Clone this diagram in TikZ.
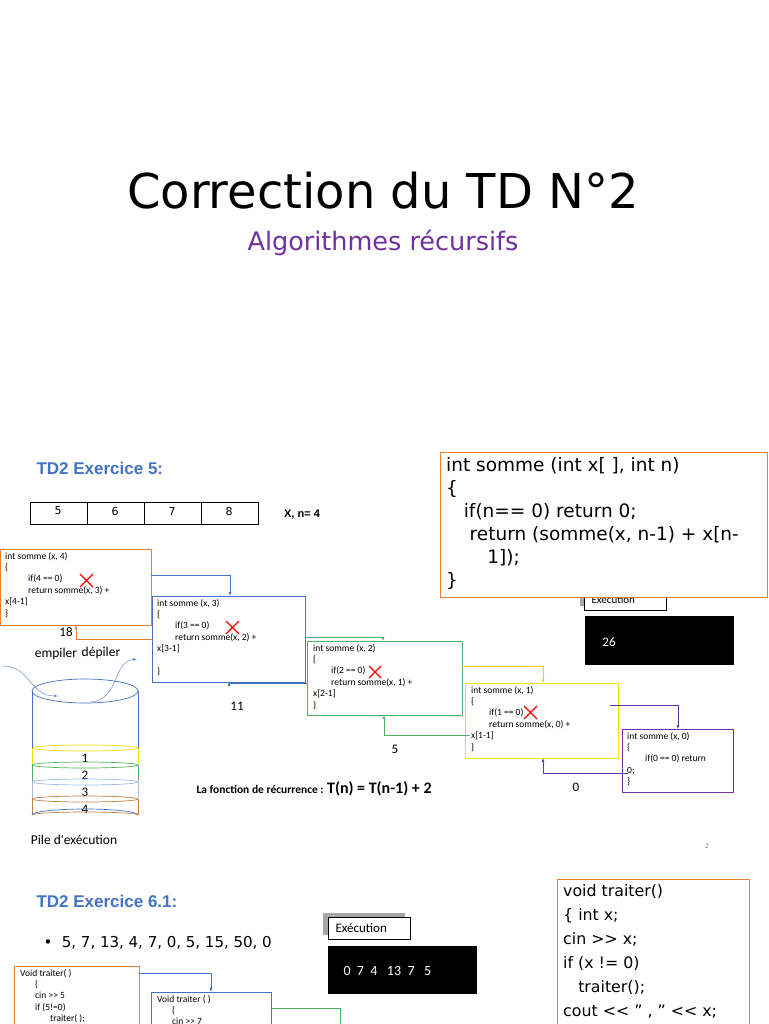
\documentclass[tikz,border=0pt]{standalone}
\usepackage{fontspec}
\setmainfont{DejaVu Sans}
\newfontfamily\calfnt{Carlito}
\newfontfamily\ari{Liberation Sans}
\usetikzlibrary{arrows.meta}
\definecolor{oran}{HTML}{ED7D31}
\definecolor{blu}{HTML}{4472C4}
\definecolor{grn}{HTML}{4EB060}
\definecolor{yel}{HTML}{F5E400}
\definecolor{pur}{HTML}{7030A0}
\definecolor{ttl}{HTML}{4472C4}
\tikzset{
 fr/.style={draw=#1, line width=0.9pt, fill=white},
 code/.style={font=\calfnt\fontsize{9.5}{11.4}\selectfont, align=left, anchor=north west, inner sep=0pt},
 ar/.style={draw=#1, line width=0.6pt, -{Latex[length=4pt,width=3pt]}},
 head/.style={font=\ari\bfseries\fontsize{17}{20}\selectfont, text=ttl, anchor=west},
 xx/.style={draw=red, line width=1.2pt}
}
\begin{document}
\begin{tikzpicture}[x=1pt,y=-1pt]
\clip (0,0) rectangle (768,1024);
\fill[white] (0,0) rectangle (768,1024);
\node (title) at (383,191) {\fontsize{48}{52}\selectfont Correction du TD N°2};
\node[text=pur] (sub) at (383,243) {\fontsize{25.5}{28}\selectfont Algorithmes récursifs};
\node[head] (h1) at (33,468) {TD2 Exercice 5:};
% array
\draw[line width=0.6pt] (30,502) rectangle (258,524);
\foreach \x in {87,144,201} \draw[line width=0.6pt] (\x,502)--(\x,524);
\foreach \v/\x in {5/58,6/115,7/172,8/229} \node[font=\fontsize{11}{12}\selectfont] at (\x,511) {\v};
\node[font=\ari\bfseries\fontsize{11}{12}\selectfont] (xn) at (302,515) {X, n= 4};
% execution 1
\fill[gray!70] (580,590) rectangle (662,606);
\draw[fill=white,line width=0.6pt] (584,592) rectangle (666,610);
\node[font=\calfnt\fontsize{11}{12}\selectfont,anchor=west] (ex1) at (588,600) {Exécution};
\fill[black] (585,616) rectangle (734,665);
\node[font=\calfnt\fontsize{13}{14}\selectfont,text=white] (r26) at (609,642) {26};
% big code box
\draw[fr=oran] (440,452) rectangle (767,597);
\node[anchor=north west, align=left, font=\fontsize{18.5}{23}\selectfont, inner sep=0pt] (bigcode) at (446,457) {int somme (int x[ ], int n)\\ \{\\ \ \ \ if(n== 0) return 0;\\ \ \ \ \ return (somme(x, n-1) + x[n-\\ \ \ \ \ \ \ \ 1]);\\ \}};
% frames
\draw[fr=oran] (0,549) rectangle (151,625);
\node[code] (b1) at (5,552) {int somme (x, 4)\\ \{\\ \hspace{23pt}if(4 == 0)\\ \hspace{23pt}return somme(x, 3) +\\ x[4-1]\\ \}};
\draw[xx] (80,574)--(93,587) (93,574)--(80,587);
\draw[fr=blu] (152,596) rectangle (305,682);
\node[code] (b2) at (157,599) {int somme (x, 3)\\ \{\\ \hspace{18pt}if(3 == 0)\\ \hspace{18pt}return somme(x, 2) +\\ x[3-1]\\ \\ \}};
\draw[xx] (226,621)--(239,634) (239,621)--(226,634);
\draw[fr=grn] (307,641) rectangle (462,715);
\node[code] (b3) at (313,644) {int somme (x, 2)\\ \{\\ \hspace{18pt}if(2 == 0)\\ \hspace{18pt}return somme(x, 1) +\\ x[2-1]\\ \}};
\draw[xx] (369,666)--(381,678) (381,666)--(369,678);
\draw[fr=yel] (465,683) rectangle (618,758);
\node[code] (b4) at (471,686) {int somme (x, 1)\\ \{\\ \hspace{18pt}if(1 == 0)\\ \hspace{18pt}return somme(x, 0) +\\ x[1-1]\\ \}};
\draw[xx] (524,706)--(537,719) (537,706)--(524,719);
\draw[fr=pur] (622,729) rectangle (733,792);
\node[code] (b5) at (627,732) {int somme (x, 0)\\ \{\\ \hspace{18pt}if(0 == 0) return\\ 0;\\ \}};
% calls
\coordinate (c1) at (230,596); \draw[ar=blu] (151,575) -| (c1);
\coordinate (c2) at (383,641); \draw[ar=grn] (305,637) -| (c2);
\coordinate (c3) at (543,683); \draw[ar=yel!80!orange] (462,666) -| (c3);
\coordinate (c4) at (678,729); \draw[ar=pur] (610,705) -| (c4);
% returns
\coordinate (r1) at (76,625); \draw[ar=oran] (152,639) -| (r1);
\coordinate (r2) at (229,682); \draw[ar=blu] (307,683) -| (r2);
\coordinate (r3) at (384,715); \draw[ar=grn] (470,735) -| (r3);
\coordinate (r4) at (543,758); \draw[ar=pur] (628,773) -| (r4);
\node[font=\calfnt\fontsize{13}{14}\selectfont] (n18) at (66,632) {18};
\node[font=\calfnt\fontsize{13}{14}\selectfont] (n11) at (237,706) {11};
\node[font=\calfnt\fontsize{13}{14}\selectfont] (n5) at (395,749) {5};
\node[font=\calfnt\fontsize{13}{14}\selectfont] (n0) at (576,787) {0};
% cylinder
\node[font=\calfnt\fontsize{13.5}{14}\selectfont] (emp) at (56,654) {empiler};
\node[font=\calfnt\fontsize{13.5}{14}\selectfont] (dep) at (101,653) {dépiler};
\fill[white] (32,748) rectangle (138,812);
\foreach \c/\y/\l in {yel!90!orange/748/1,grn/765/2,blu!50/782/3,brown/799/4}{
  \draw[\c,line width=0.7pt] (32,\y) arc[start angle=180,end angle=360,x radius=53,y radius=3];
  \draw[\c,line width=0.7pt] (32,\y) arc[start angle=180,end angle=0,x radius=53,y radius=3];
  \draw[\c,line width=0.7pt] (32,\y)--(32,\y+16) (138,\y)--(138,\y+16);
  \node[font=\calfnt\fontsize{13}{14}\selectfont] at (85,\y+10) {\l};}
\draw[brown,line width=0.7pt] (32,815) arc[start angle=180,end angle=360,x radius=53,y radius=3];
\draw[blu,line width=0.7pt] (32,691)--(32,748) (138,691)--(138,748);
\draw[blu,line width=0.7pt] (85,691) ellipse[x radius=53,y radius=12];
\draw[blu,line width=0.7pt] (32,815) arc[start angle=180,end angle=360,x radius=53,y radius=6];
\coordinate (ein) at (58,696); \coordinate (eout) at (137,659);
\draw[blu!80,line width=0.5pt,-{Latex[length=4pt,width=3pt]}] (3,666) .. controls (30,666) and (30,696) .. (ein);
\draw[blu!80,line width=0.5pt,-{Latex[length=4pt,width=3pt]}] (90,702) .. controls (120,700) and (112,662) .. (eout);
\node[font=\calfnt\fontsize{13.5}{14}\selectfont] (pile) at (74,840) {Pile d'exécution};
\node[anchor=west] (rec) at (193,789) {\calfnt\bfseries\fontsize{11.5}{13}\selectfont La fonction de récurrence : \fontsize{16}{18}\selectfont T(n) = T(n-1) + 2};
\node[text=gray,font=\fontsize{6}{7}\selectfont] (pg) at (707,846) {2};
% exercise 6.1
\node[head] (h2) at (33,901) {TD2 Exercice 6.1:};
\node[anchor=west,font=\fontsize{15}{18}\selectfont] (bul) at (40,943) {\textbullet\ \ 5, 7, 13, 4, 7, 0, 5, 15, 50, 0};
\fill[gray!70] (323,913) rectangle (405,935);
\draw[fill=white,line width=0.6pt] (328,917) rectangle (410,939);
\node[font=\calfnt\fontsize{13}{14}\selectfont,anchor=west] (ex2) at (332,928) {Exécution};
\fill[black] (328,946) rectangle (477,994);
\node[font=\calfnt\fontsize{14}{15}\selectfont,text=white,anchor=west] (res2) at (340,971) {0\ \ 7\ \ 4\ \ \ 13\ \ 7\ \ \ 5};
\draw[fr=oran] (557,879) rectangle (749,1040);
\node[anchor=north west, align=left, font=\fontsize{15.8}{24}\selectfont, inner sep=0pt] (code2) at (563,884) {void traiter()\\ \{ int x;\\ cin >{}> x;\\ if (x != 0)\\ \ \ \ traiter();\\ cout <{}< " , " <{}< x;\\ \}\\ void main () \{ traiter};
\draw[fr=oran] (14,966) rectangle (139,1040);
\node[code] (t1) at (20,969) {Void traiter( )\\ \hspace{15pt}\{\\ \hspace{15pt}cin >{}> 5\\ \hspace{15pt}if (5!=0)\\ \hspace{30pt}traiter( );};
\draw[fr=blu] (151,992) rectangle (271,1040);
\node[code] (t2) at (157,995) {Void traiter ( )\\ \hspace{15pt}\{\\ \hspace{15pt}cin >{}> 7};
\coordinate (d1) at (211,992); \draw[ar=blu] (139,973) -| (d1);
\coordinate (d2) at (340,1030); \draw[ar=grn] (271,1008) -| (d2);
\end{tikzpicture}
\end{document}
